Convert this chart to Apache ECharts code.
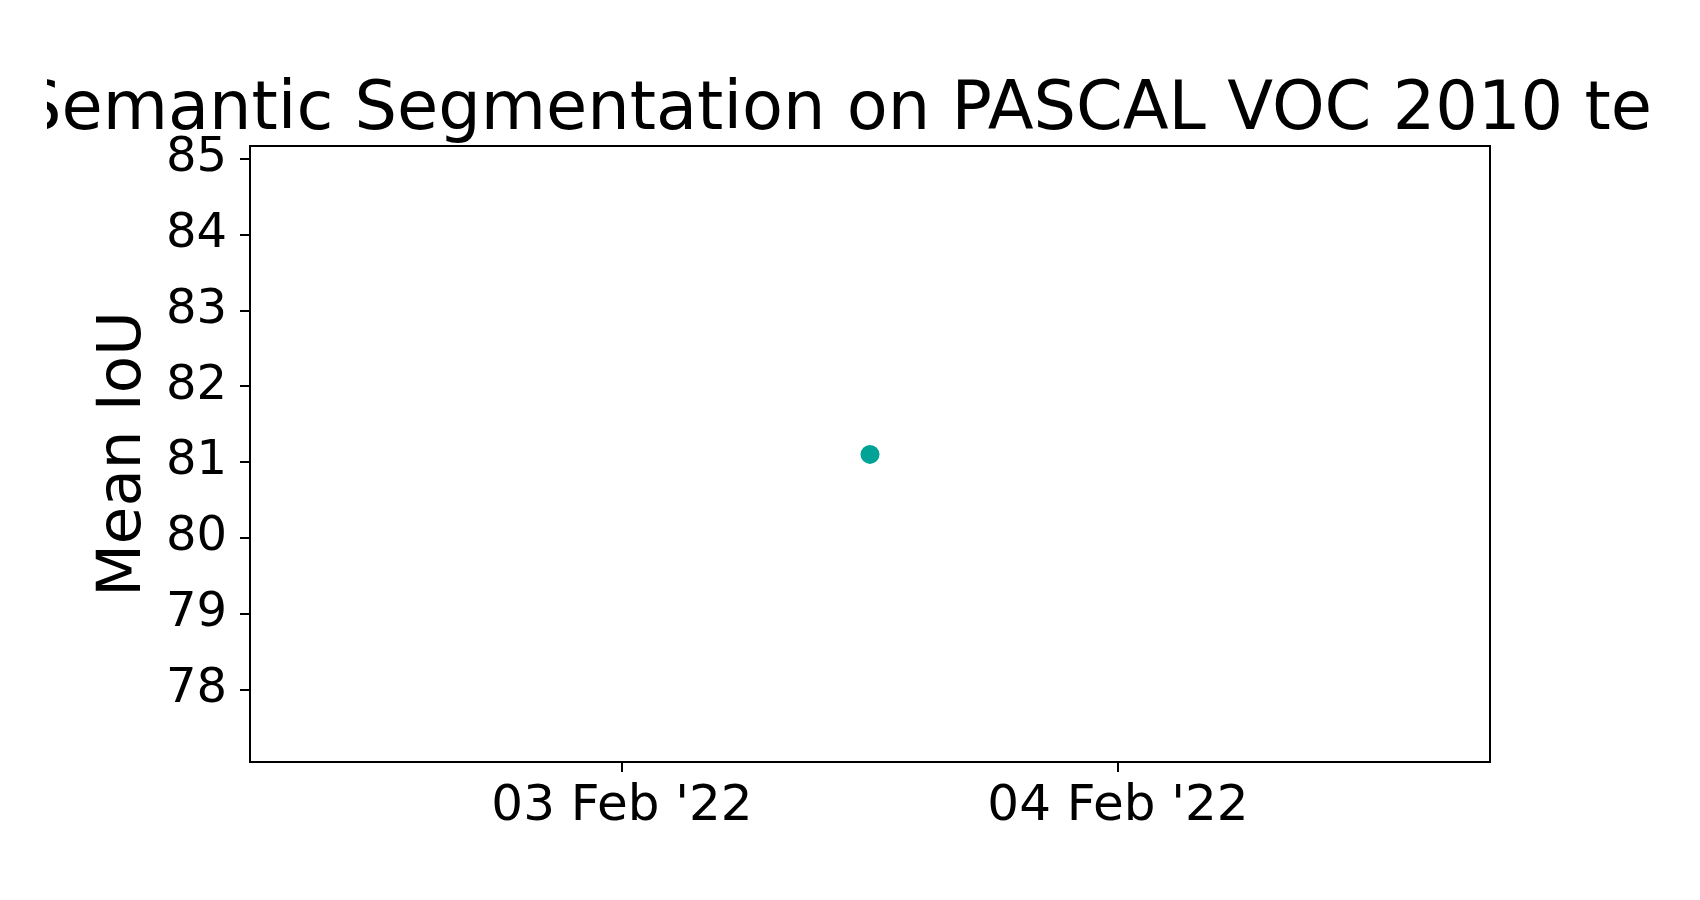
<!DOCTYPE html>
<html>
<head>
<meta charset="utf-8">
<script src="https://cdn.jsdelivr.net/npm/echarts@6/dist/echarts.min.js"></script>
<style>
	html, body { margin: 0; padding: 0; background: #fff; }
	#draw { width: 1700px; height: 900px; }
</style>
</head>
<body>
<div id="draw"></div>
<script>
	// data
	var dates = ['2022-02-03T12:00:00Z'];
	var meanIoU = [81.1];
	var xTicks = ['2022-02-03T00:00:00Z', '2022-02-04T00:00:00Z'];
	var yTicks = [78, 79, 80, 81, 82, 83, 84, 85];
	var yRange = [77.04, 85.17];
	var xPadDays = 1.25; // axis range either side of the point

	var DAY = 86400000;
	var MONTHS = ['Jan', 'Feb', 'Mar', 'Apr', 'May', 'Jun', 'Jul', 'Aug', 'Sep', 'Oct', 'Nov', 'Dec'];
	var font = 'DejaVu Sans';

	function fmtDate(v) {
		var d = new Date(v);
		var dd = ('0' + d.getUTCDate()).slice(-2);
		return dd + ' ' + MONTHS[d.getUTCMonth()] + " '" + String(d.getUTCFullYear()).slice(-2);
	}

	var pts = dates.map(function (d, i) {
		return [Date.parse(d), meanIoU[i]];
	});
	var xVals = pts.map(function (p) { return p[0]; });
	var xMin = Math.min.apply(null, xVals) - xPadDays * DAY;
	var xMax = Math.max.apply(null, xVals) + xPadDays * DAY;
	var xTickVals = xTicks.map(function (d) { return Date.parse(d); });

	var myChart = echarts.init(document.getElementById('draw'));
	myChart.setOption({
		animation: false,
		backgroundColor: '#fff',
		grid: {
			left: 250,
			right: 210,
			top: 146,
			bottom: 138,
			show: true,
			borderColor: '#000',
			borderWidth: 2
		},
		graphic: [{
			type: 'text',
			right: 48,
			top: 78,
			z: 10,
			style: {
				text: 'Semantic Segmentation on PASCAL VOC 2010 te',
				font: '67px "DejaVu Sans"',
				fill: '#000'
			}
		}, {
			// the title is cut off on the left in the original
			type: 'rect',
			left: 0,
			top: 60,
			z: 20,
			shape: { width: 47, height: 90 },
			style: { fill: '#fff' }
		}],
		xAxis: {
			type: 'value',
			min: xMin,
			max: xMax,
			axisLine: { show: true, lineStyle: { color: '#000', width: 2 } },
			axisTick: {
				show: true,
				customValues: xTickVals,
				length: 10,
				lineStyle: { color: '#000', width: 2 }
			},
			axisLabel: {
				customValues: xTickVals,
				formatter: fmtDate,
				color: '#000',
				fontFamily: font,
				fontSize: 50,
				margin: 20
			},
			splitLine: { show: false }
		},
		yAxis: {
			type: 'value',
			min: yRange[0],
			max: yRange[1],
			name: 'Mean IoU',
			nameLocation: 'middle',
			nameRotate: 90,
			nameGap: 95,
			nameTextStyle: { color: '#000', fontFamily: font, fontSize: 61 },
			axisLine: { show: true, lineStyle: { color: '#000', width: 2 } },
			axisTick: {
				show: true,
				customValues: yTicks,
				length: 10,
				lineStyle: { color: '#000', width: 2 }
			},
			axisLabel: {
				customValues: yTicks,
				color: '#000',
				fontFamily: font,
				fontSize: 48,
				margin: 23
			},
			splitLine: { show: false }
		},
		series: [{
			type: 'scatter',
			data: pts,
			symbol: 'circle',
			symbolSize: 19,
			itemStyle: { color: '#00a396', opacity: 1 }
		}]
	});
</script>
</body>
</html>
